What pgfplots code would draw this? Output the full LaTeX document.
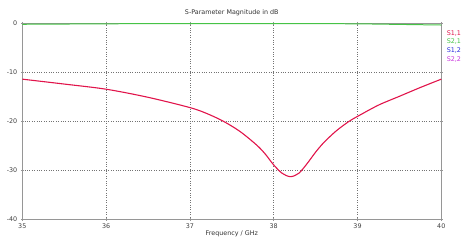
\documentclass[border=0pt]{standalone}
\usepackage{fontspec}
\setmainfont{DejaVu Sans}
\usepackage{pgfplots}
\pgfplotsset{compat=1.18}
\definecolor{axgray}{RGB}{150,150,150}
\definecolor{sone}{RGB}{225,20,75}
\definecolor{stwo}{RGB}{70,195,70}
\definecolor{sthr}{RGB}{40,40,220}
\definecolor{sfour}{RGB}{200,50,220}
\newcommand{\sz}{\fontsize{6.4}{7.4}\selectfont}
\begin{document}
\begin{tikzpicture}
\useasboundingbox (-22.3bp,-24.7bp) rectangle (451.7bp,219.3bp);
\begin{axis}[
  at={(0,0)}, anchor=south west,
  scale only axis, width=419bp, height=196bp,
  xmin=35, xmax=40, ymin=-40, ymax=0,
  xtick={35,36,37,38,39,40}, ytick={-40,-30,-20,-10,0},
  axis line style={axgray, line width=0.9pt},
  tick style={axgray, line width=0.5pt},
  tick align=center, major tick length=3pt,
  grid=major,
  major grid style={dotted, black!55, line width=0.55pt},
  /pgf/number format/assume math mode=true,
  tick label style={font=\sz, text=black!75},
  xticklabel style={yshift=1pt},
  title={S-Parameter Magnitude in dB},
  title style={font=\sz, text=black!80, yshift=-2pt},
  xlabel={Frequency / GHz},
  xlabel style={font=\sz, text=black!80, yshift=4pt},
  legend style={draw=none, fill=none, at={(1.008,0.975)}, anchor=north west,
    font=\sz, row sep=-1.5pt, inner sep=0pt},
  legend cell align=left,
  legend image code/.code={},
]
\addplot[sone, line width=1.1pt, smooth, tension=0.5] coordinates {
(35,-11.4)(35.5,-12.4)(36,-13.45)(36.5,-15.1)(37,-17.2)(37.2,-18.4)(37.4,-20.0)(37.6,-22.1)(37.8,-24.9)(37.9,-26.7)(38.0,-28.9)(38.1,-30.6)(38.2,-31.3)(38.3,-30.6)(38.4,-28.6)(38.5,-26.3)(38.6,-24.3)(38.75,-21.9)(38.9,-20.0)(39.0,-19.0)(39.25,-16.7)(39.5,-14.9)(39.75,-13.1)(40,-11.4)};
\addlegendentry{\textcolor{sone}{S1,1}}
\addplot[stwo, line width=1pt] coordinates {
(35,-0.2)(36,-0.1)(37,-0.05)(38,-0.05)(39,-0.1)(40,-0.35)};
\addlegendentry{\textcolor{stwo}{S2,1}}
\addlegendimage{empty legend}
\addlegendentry{\textcolor{sthr}{S1,2}}
\addlegendimage{empty legend}
\addlegendentry{\textcolor{sfour}{S2,2}}
\end{axis}
\end{tikzpicture}
\end{document}
